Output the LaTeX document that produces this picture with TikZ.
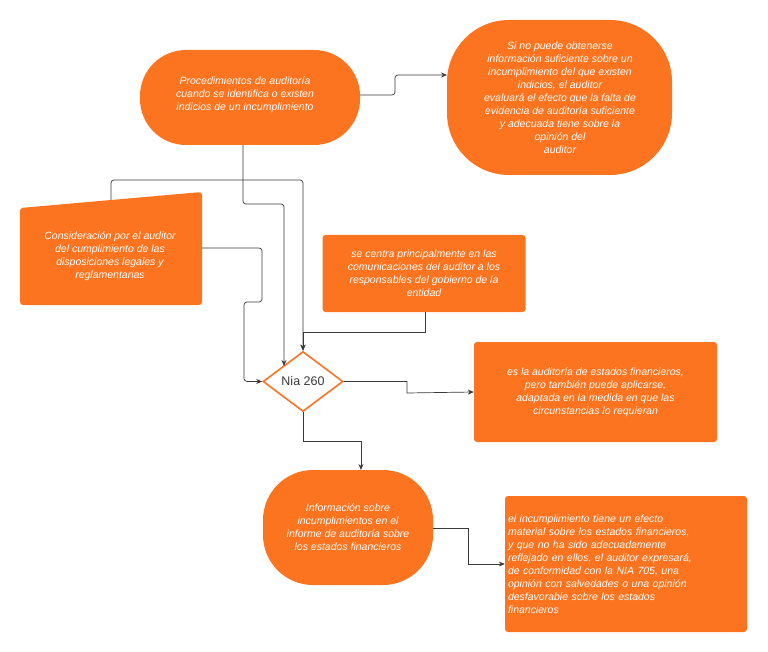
\documentclass[tikz,border=0pt]{standalone}
\usepackage{fontspec}
\setmainfont{Liberation Sans}
\usetikzlibrary{shapes.geometric,arrows.meta}
\definecolor{org}{HTML}{FC7420}
\definecolor{ln}{HTML}{3A3A3A}
\tikzset{
 box/.style={fill=org,draw=none,rounded corners=3pt,text=white,font=\itshape\fontsize{10.5}{13}\selectfont,align=center,inner sep=2pt},
 conn/.style={draw=ln,line width=0.7pt,rounded corners=3pt},
 arr/.style={conn,-{Stealth[length=6pt,width=5pt]}}
}
\begin{document}
\begin{tikzpicture}[x=1pt,y=-1pt]
\useasboundingbox (0,0) rectangle (768,652);
% shapes
\path[fill=org,rounded corners=46pt] (140,50) rectangle (360,145);
\node[box,fill=none] (p) at (245,95) {Procedimientos de auditoría\\cuando se identifica o existen\\indicios de un incumplimiento};
\path[fill=org,rounded corners=62pt] (447,20) rectangle (672,175);
\node[box,fill=none] (e) at (560,98) {Si no puede obtenerse\\información suficiente sobre un\\incumplimiento del que existen\\indicios, el auditor\\evaluará el efecto que la falta de\\evidencia de auditoría suficiente\\y adecuada tiene sobre la\\opinión del\\auditor};
\path[fill=org,rounded corners=3pt] (20,208) -- (202,192) -- (202,305) -- (20,305) -- cycle;
\node[box,fill=none] (l) at (110,256) {Consideración por el auditor\\del cumplimiento de las\\disposiciones legales y\\reglamentarias};
\node[box,minimum width=203pt,minimum height=77pt] (m) at (424,273.5) {se centra principalmente en las\\comunicaciones del auditor a los\\responsables del gobierno de la\\entidad};
\node[diamond,draw=org,line width=1.6pt,fill=white,minimum width=80pt,minimum height=60pt,inner sep=0pt,aspect=1.33,font=\fontsize{12.5}{14}\selectfont,text=ln] (d) at (303,381.5) {Nia 260};
\node[box,minimum width=243pt,minimum height=100pt] (r) at (595.5,392) {es la auditoría de estados financieros,\\pero también puede aplicarse,\\adaptada en la medida en que las\\circunstancias lo requieran};
\path[fill=org,rounded corners=50pt] (263,470) rectangle (433,585);
\node[box,fill=none] (b) at (348,527) {Información sobre\\incumplimientos en el\\informe de auditoría sobre\\los estados financieros};
\node[box,minimum width=242pt,minimum height=136pt,align=left,text width=236pt] (br) at (626,564) {el incumplimiento tiene un efecto\\material sobre los estados financieros,\\y que no ha sido adecuadamente\\reflejado en ellos, el auditor expresará,\\de conformidad con la NIA 705, una\\opinión con salvedades o una opinión\\desfavorable sobre los estados\\financieros};
% connectors
\coordinate (pr) at (360,95);
\coordinate (er) at (447,75);
\draw[arr] (pr) -- (395,95) -- (395,75) -- (er);
\coordinate (pb) at (243,145);
\coordinate (dtl) at (284,366);
\draw[arr] (pb) -- (243,204) -- (284,204) -- (dtl);
\coordinate (lt) at (111,200);
\draw[arr] (lt) -- (111,180) -- (303,180) -- (d.north);
\coordinate (lr) at (202,248);
\draw[arr] (lr) -- (262,248) -- (262,302) -- (244,302) -- (244,381.5) -- (d.west);
\coordinate (mb) at (425,312);
\draw[arr,rounded corners=0pt] (mb) -- (425,332) -- (303,332) -- (d.north);
\draw[arr,rounded corners=0pt] (d.east) -- (407,381.5) -- (407,393) -- (r.west);
\coordinate (bt) at (361,470);
\draw[arr,rounded corners=0pt] (d.south) -- (303,441) -- (361,441) -- (bt);
\coordinate (brr) at (433,528);
\draw[arr,rounded corners=0pt] (brr) -- (468,528) -- (468,564) -- (br.west);
\end{tikzpicture}
\end{document}
